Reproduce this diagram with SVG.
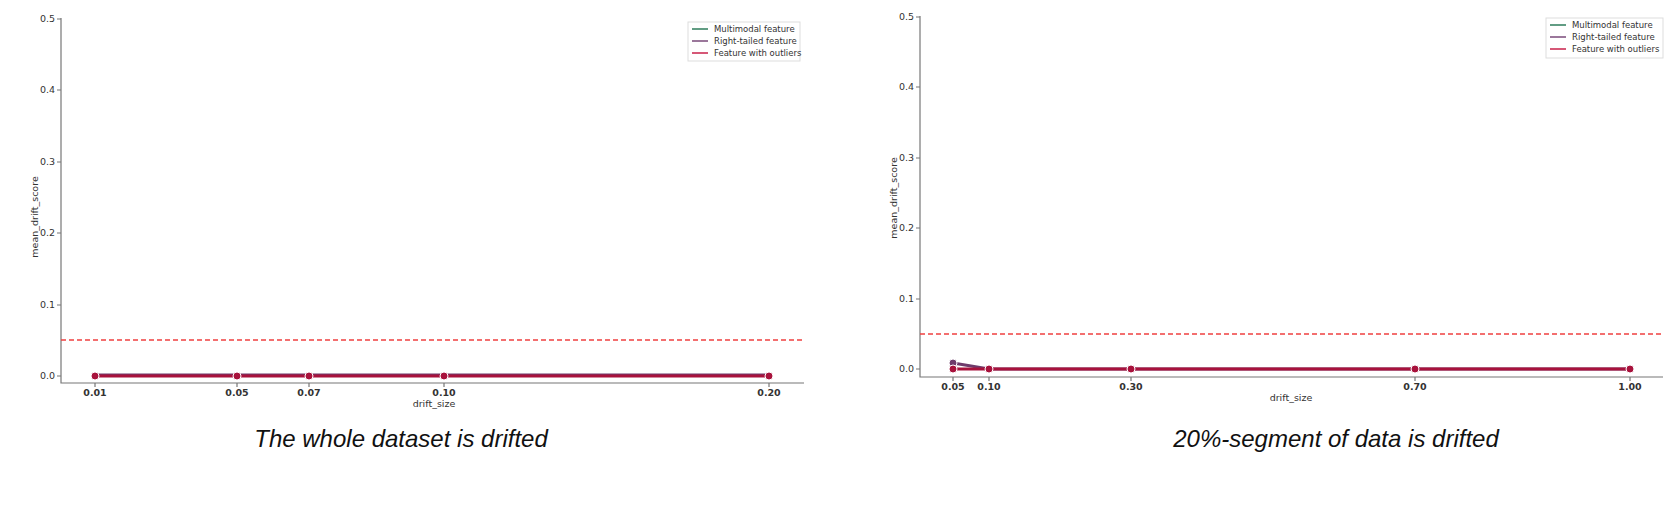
<svg xmlns="http://www.w3.org/2000/svg" width="1680" height="509" viewBox="0 0 1680 509">
<style>
text{font-family:"DejaVu Sans",sans-serif;fill:#333}
.tk{font-size:9.5px}
.xt{font-size:9.5px;font-weight:bold;text-anchor:middle}
.ax{stroke:#777;stroke-width:1.2;fill:none}
.th{stroke:#f04040;stroke-width:1.3;stroke-dasharray:5,3}
.ln{stroke:#a8123c;stroke-width:3;fill:none}
.rt{stroke:#6e3b6b;stroke-width:3;fill:none}
.pt{fill:#a8123c;stroke:#fff;stroke-width:1}
.cap{font-family:"Liberation Sans",Arial,sans-serif;font-style:italic;font-size:24px;fill:#111;text-anchor:middle}
.lg{font-size:8.5px}
</style>
<rect width="1680" height="509" fill="#fff"/>
<g id="chart-left">
<path class="ax" d="M61,18V383H804"/>
<g class="tk" text-anchor="end">
<text x="55" y="22">0.5</text><text x="55" y="93">0.4</text><text x="55" y="165">0.3</text><text x="55" y="236">0.2</text><text x="55" y="308">0.1</text><text x="55" y="379">0.0</text>
</g>
<path class="ax" d="M57,19H61M57,90H61M57,162H61M57,233H61M57,305H61M57,376H61M95,383V387M237,383V387M309,383V387M444,383V387M769,383V387"/>
<text class="xt" x="95" y="396">0.01</text><text class="xt" x="237" y="396">0.05</text><text class="xt" x="309" y="396">0.07</text><text class="xt" x="444" y="396">0.10</text><text class="xt" x="769" y="396">0.20</text>
<text class="tk" x="434" y="407" text-anchor="middle">drift_size</text>
<text class="tk" transform="translate(38,217) rotate(-90)" text-anchor="middle">mean_drift_score</text>
<line class="th" x1="61" y1="340" x2="804" y2="340"/>
<path class="rt" d="M95,375H769"/>
<path class="ln" d="M95,376H769"/>
<circle class="pt" cx="95" cy="376" r="4"/><circle class="pt" cx="237" cy="376" r="4"/><circle class="pt" cx="309" cy="376" r="4"/><circle class="pt" cx="444" cy="376" r="4"/><circle class="pt" cx="769" cy="376" r="4"/>
<g id="legend-left">
<rect x="688" y="22" width="112" height="39" fill="#fff" stroke="#ddd"/>
<line x1="692" y1="29" x2="708" y2="29" stroke="#2e7d5b" stroke-width="1.5"/><text class="lg" x="714" y="32">Multimodal feature</text>
<line x1="692" y1="41" x2="708" y2="41" stroke="#7a4a7a" stroke-width="1.5"/><text class="lg" x="714" y="44">Right-tailed feature</text>
<line x1="692" y1="53" x2="708" y2="53" stroke="#c8204a" stroke-width="1.5"/><text class="lg" x="714" y="56">Feature with outliers</text>
</g>
</g>
<g id="chart-right">
<path class="ax" d="M920,16V377H1663"/>
<g class="tk" text-anchor="end">
<text x="914" y="20">0.5</text><text x="914" y="90">0.4</text><text x="914" y="161">0.3</text><text x="914" y="231">0.2</text><text x="914" y="302">0.1</text><text x="914" y="372">0.0</text>
</g>
<path class="ax" d="M916,17H920M916,87H920M916,158H920M916,228H920M916,299H920M916,369H920M953,377V381M989,377V381M1131,377V381M1415,377V381M1630,377V381"/>
<text class="xt" x="953" y="390">0.05</text><text class="xt" x="989" y="390">0.10</text><text class="xt" x="1131" y="390">0.30</text><text class="xt" x="1415" y="390">0.70</text><text class="xt" x="1630" y="390">1.00</text>
<text class="tk" x="1291" y="401" text-anchor="middle">drift_size</text>
<text class="tk" transform="translate(897,198) rotate(-90)" text-anchor="middle">mean_drift_score</text>
<line class="th" x1="920" y1="334" x2="1663" y2="334"/>
<path class="rt" d="M953,363L989,369H1630"/>
<circle cx="953" cy="363" r="4" fill="#6e3b6b" stroke="#fff"/>
<path class="ln" d="M953,369H1630"/>
<circle class="pt" cx="953" cy="369" r="4"/><circle class="pt" cx="989" cy="369" r="4"/><circle class="pt" cx="1131" cy="369" r="4"/><circle class="pt" cx="1415" cy="369" r="4"/><circle class="pt" cx="1630" cy="369" r="4"/>
<g id="legend-right">
<rect x="1546" y="18" width="117" height="40" fill="#fff" stroke="#ddd"/>
<line x1="1550" y1="25" x2="1566" y2="25" stroke="#2e7d5b" stroke-width="1.5"/><text class="lg" x="1572" y="28">Multimodal feature</text>
<line x1="1550" y1="37" x2="1566" y2="37" stroke="#7a4a7a" stroke-width="1.5"/><text class="lg" x="1572" y="40">Right-tailed feature</text>
<line x1="1550" y1="49" x2="1566" y2="49" stroke="#c8204a" stroke-width="1.5"/><text class="lg" x="1572" y="52">Feature with outliers</text>
</g>
</g>
<text class="cap" x="401" y="447">The whole dataset is drifted</text>
<text class="cap" x="1336" y="447">20%-segment of data is drifted</text>
</svg>
